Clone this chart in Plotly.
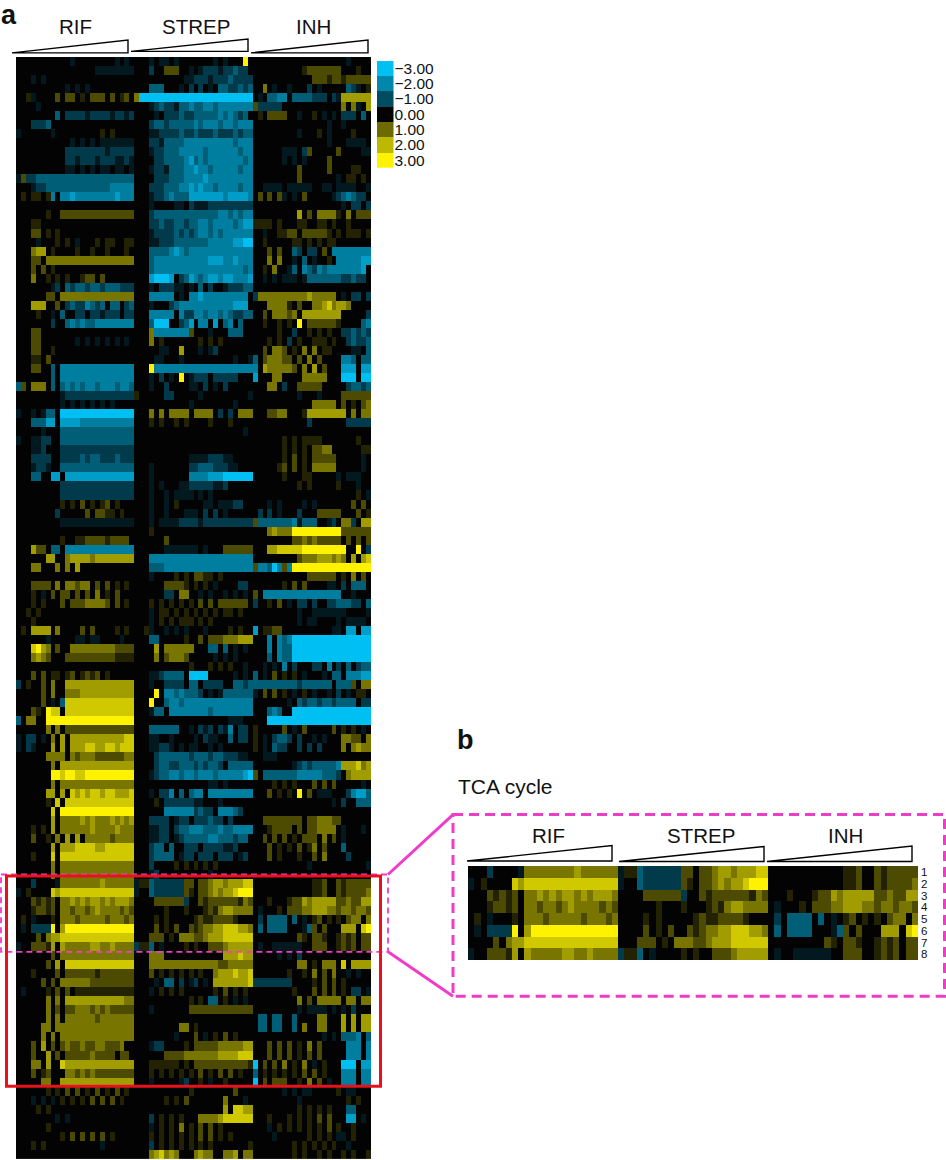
import plotly.graph_objects as go

# Cell codes: . = 0; a..f = negative steps down to -3; 1..6 = positive steps up to +3
RIF_ROWS = [
"...........a........a.a.","................aaaaaaaa","...a.a..................","..........a.a.a.........",
"..1a....2.22.1.222.2.12.","....a...................","........c.bbbbabbbbabbab","...bbbc.................",
"a......a.........1.1....","...........a.a.a.aaaaaaa","..........bbbbbbbbabbbbb","..........bbabbbabbbaaba",
"..........aa.a.a.aa.aa.a","a2bbcccccccccccccccccccc","...abbcccccccccccccddddd",".1.11.1d.ddeddddddddeddd",
"........................","......1..222222222222222","...11...................","...22.1.1...............",
"....a...1.1.a...1.11..11","...344.1....1..1..1...1.","...22.333333333333333333","...2.2.1................",
"...3..1.1.1..122.2......",".......ab.cbccbccbcccbbb","......22.333333333333333",
"...444..2.bcbbdcbc.cc.bc","....1..a.c..bb.bbabbb.bb",".......b..cdcdccdddddddd","...22...................",
"...22.......a.a.a.a.a.a.","...22..1................","...11.2.................","...22..c.ddddddddddddddd",
".......c.ddddddddddddddd","c2.333.c.cdcdcddcdddcddc",".........abbbbbbbbbbbbbb",".........a.a.a.a.a.a....",
"a..a.acc.fffffffffffffff","...cccee.eeeedddddddddddd",".....a...ccccccccccccccc","a..aabb..ccccccccccccccc",
"...aab...bbbbbbbbbbbbbbb","...bbbb..bbbbcbccbbbcbbb","...abba..ccccccccccccccc","...cc..ee.eeeeeeeeeeeeee",
".........bbbbbbbbbbbbbbb",".........bbbbbbbbbbbbbbb",".........1.1.2.1.12.1...","........b.....2.2211.1..",
".........aaaaaaaaaaaaaaa","........................",".........1..11222212222.","...422.cc.dddddddddddddd",
"......44..34444344444444","...33...3.3.4...........","........................","...2222.3.33233.2.2.1.1.",
"...1.a.2.22.2.2.3.1.2...","...1.1...2.22233332.2.1.","..1.1...................","...1....................",
".1.4444.3....2.2....1.1.","......a.....aa.aa....a..","...5643.2..3333333332222","...3432...22222222221111",
"........................","...2.2.11.12.1212.1.....","b.1..2.3..44444444444444",".....2.3..33344444444444",
".....2.a.c55555555555555","...21.655.55555555555555","c.33..666666666666666666","......3.3.22222222222222",
"a.bb.a.3.4.4444444444455","a.ba...4.4.4445544554555","......3333.3233322222233",".......3.444444444444444",
".......66566556666666666",".......3.333333333333333","......44.4.5454554554445","......1.5.55555555555555",
".......5.666666666666666",".......4.333343433343434","...1.1.4.333333433334333","...2..1.3.4.4.3333323333",
".......4.444555544555555","...1...5.555555555555555",".......3.333333333333333",".......3.333333333333333",
"...b....a333333334333333","a.1....54555555555555555","...21212.334343443434443","...12212.332332343333232",
".1.a...1.333233333233323",".a.bbbb6.466666666666666","....2.344555555555555555","a..22214.433333443343333",
".......2.333333333333333","......2.4.55555555555555","...1....2.22222212222222",".....2.2.333333222222222",
".a....1.2.2.111111111111","......3.3.44444444444433","......3.2.22333232322222","......3.3.33333323333333",
".....33.3333333333333333",".....3.3.333333333333333","...2.4.2.2322322332223..","...2..4.2.2222232222.22.",
"...33.4..544444444444444","...2.12...33232322222222",".....33..444444444444444","......1.1.2.2.1.2.1.2.1.",
"...a.a.a.1.1.1.2.2.2.1..","....1.1.................","........a.a.............","......1.................",
".........1.2.2.2.2.1....","...1.1...........a......","........................",
]
STREP_ROWS = [
"...a.aa.a.......a.a...6.","...b..222..a.abbbabbcbb.","..........aabbbabbbcbbbb","...ccc...a.b.b.a.ccbbcbc",
"3fffffffffffffffffffffff","...abcbbaccdccddcddddddd","....a.bbbcbbcccccdcdcbc.","...bccbcccccdcdddcddcddd",
"...aabbbbcbbcbbbcbbbcbcc","...bbaccccddddddddddcddd","...abbcccdddddcddddddcdd","....bbccccdecdcdddddddcd",
"...abbacccddeddcdddddcdd","....bbbcccddddeddddddddd","...bbbcccddededdcddddcdd","...abbcdccceeeeeeedeeeed",
"...a....aa.baaabbbbbbbbb","...bcccccccccccccddcdcdd","...bbcbbccbccddcddddcdee","...abbbbcbcbcddcdcdddddd",
"...aabbbcccccccdddddeeff","...ccccdedcddddddddddddd","...cdddddddddddeeeddeddd","...cddddddddddddddddddcd",
"...efffe.bcedcdeedeeddde","...a.bbbaa.a.c.b..abbbcc","...ddddd.a.ddeddddddddd.",
"...a...bcdddddddddddeee.","...ddddd.dbbddcddcdcbbcc","...cfff..bce.dd.e.cd.c..","...3ddddddd2...a...ccc..",
"...3.1.......1.1.1......",".....aa..4...a.ab.......","....aa...a..........a..a","...6dddddddddddddddddddd",
"...a.b.a.6.abbb.bbbbb...","...a..b....aa.b.a.b.....","1.....bb.....a.........a","...........a........a...",
"...3.3.3333.3333.b.b.333","...1.1..1.1....1...1....","......................a.","........................",
"........................","...........aaaabbbaa....","...a.......bbcccbbbaa...","...a.......ddddeeeffffff",
"...a.a...aabbbbbaab.....","...a..a.aaaa.a.a........","...a..a.1.....aa.aaabb..","...a..a...aaa.b.b.a.....",
"...a.aaaabbbbabbbbbbbbbb","...1....................","......2.................","......aaaaaaa.a...222222",
"...ddddddddddddddddddddd","...cccdddddddddddddddddd","...a....1.1.2211.1......","......22221.1.1.a....bb.",
"......bb.33..a.a..a.a.a.","...1.1.1.1.1.2.2.222222.","...a.11.1.1.1.1.1.11.1..","...a.1.1.111.1.1........",
"..1a..a.a.a...a....1.1..","...cc.....1..2.222333444","....4.333333...cc.c.a.a.","....3.23332.....a.a.a...",
"...........1...1.1.1..a.","...aabcccc.ffff.....a.a.","...a..bbbb.cc.bbbb..ccbc","....6.ddcdcccb.a.acccccc",
"...6..cddcdddddddddddddd","...acc.ddddddddcdddddddd","...................aaa..","...cccccc..a.bab.bad.bb.",
"...aa..a....a.baa..c.bb.","...aabba.a.aa..a.a......","....bccccccbcccbccbbbaa.","....bccbbcccbcbccb.ccccc",
"...abccddcddcdddcdddddef","...............aa.a.....","...a.bbd.c.cdd.ddddddddd","....1.bbbbbbaa...a......",
"......ddddddbcbb.dddcb..","...bbbb.abb.bbbcbb.b....","...aabb.bccdddcccdccdddd","...aabb.abcccccddcccbcc.",
"...bcc.c..bbb.bbbbaab...","...bcccc.abb.bbb.bbb.ab.","...b....1.1.1.1.1.......","...ab..........a........",
"a11cbbbbbb22.22344344455","a..cbbbbbb21.22343445666","....222222b..21222222132","......1...1...1213443333",
"....1.1.....121122221...","....2.1.2..2123344555443","...222.1.333223444555555","b11c.a....1.1..222344444",
"...333............444544","...333333333333332233333","...2.1.1.1.1.1..34445445","....a.cc.b.ab.a.44444445",
"...a.1.1.1......1.2.1.1.","...........1.1.cc.1.a.a.","...a.......2222222222222","........................",
".........33.1...........","........a...2.a.1.2.1...","...abb....1.222223333344","......222233333334444555",
"...111111.1.222222222221","...1.1.1.1.1.2.1.2.2.1..","...a.....ab..1.a..1.....","...........1........2...",
"......1.1.2.......3...a.","..................4.5544","...b.1.1.1...33334555555","...a.1.1.3.1.2.2.1......",
"...1.1.1.1.1.2.2.1.1....","...b.1.1.1.1.1.1.......1","...345343...3433..334.33",
]
INH_ROWS = [
"...................a....","..........12222222...1..","............222122122222","..3.a..a...b.a.....cba.1",
".a.ccdd.ccccbbb.ba444444","2bbbbb............3.3a.4",".1.2222..a..1.a.a.bbb.c.","...............a..a.....",
".........a...1.a....1...","...............a...aaaa.","......aaa.b2.....2....aa","......a.a.a....2........",
".........2.....2....11..",".........2.......a.11.1.","..aaaa.aaaaa..aa.aaaa..a",".2.2.2a.a.2.....abcdcbb.",
"..................a.bb.b",".........4.2.33331.3.222","1111.1...11..11.1..1....","..a..1122.222221.1.111.1",
"..1.....11.1.1.11.......","...2.2..cb.bb.2.dddddddd","...3.3..a.c.a..1.dddddee","..1.3..ac.dcbdcddddddde.",
"..a.a.aaa.acccccccbbcbb.","........................","b3333333333433333.a.bb.b",
"...33331.2..33453443....","..2.33323.44444444.....b","..1..1.1.6.2222221....cd",".....1..b..1.1.1..bbcbcb",
"...1.1.b.1..111.1..bcbbc","..2.332.1.3.3.11....aa.c","c.233322.2.3.2....ddc.cc","d.4333332.3.4.2...eee.ee",
"e...33....33333...fff.ff","...33.b..22222.....bccbc",".........a...a....222222","............33333.2.1.23",
"...2233...144444444.3.33","...........b.......bbbbb","........................","......1.1.1111.......1..",
"......1.1.1.2233......11","......1.2.1.22222.....a.",".....12.2.1.33333.....a.","......1...11.....a.aaa..",
".........1.1.....1...a..",".....................1.a","...a.a....a.a.......2.2.",".b.b.a...b...22222...2.1",
"2cccccccdaccc..ab.33b.44","...343336666666666222222","........2232322222.2.2.2","...4455555666666666..6.b",
".........2333444343.4.45","2ddcfd2d6666666666666666","...........222222.1.3.2.","......1.2.2....aa.b.ccc.",
"2.dddddddddddddddd..a...","b..1.2.a.bb.b..bbcccbb.c",".........a..aaaaaaa....a",".........a.aa....a.aaaa.",
"e.1122..........aa.ee.ee","...d.dcdffffffffffffffff","...d.dccffffffffffffffff","...c.dccffffffffffffffff",
"..a.a.d.b...bb.d.b.c.bcc","c.a.2.1.1.a...a.cc.dddee","cccccccccbcccccc.ccc2.33","a.2.2.1.a.1.a..a.b.a.11.",
".......a.cbccbccbcccc.bb","...cdc..ffffffffffffffff","...fffffffffffffffffffff","1.....2.a.2.....2.1.1.a.",
"1.a.bccb.b..a.a...3322.3","1.a.cbb..b.b.b....3.3433","..aaa...................","........abcbcccccd444534",
"2.cccccccdddddcccb.34444","....1.1.1...2.2.2.....a.","...2.1.1.6.2.aaa...bdeec","................a.b..ccc",
"........................","..22222222.2233322......","...12222.2.223333.a...a.","..2.2.2.1.222.3.2.a.....",
"...2.1.1.2.13.2...c.....","...2.1...1..2.3....b....","...........a...........a","........................",
"............112..2122222","............112..2122223","...1...122434444422 32244".replace(" ",""),".a...1.22233444332332332",
".b.cccc.c.a.12.1.1.233.3",".c.cccc...ac2.2...444.56",".........21.221..1212.22",".a..aaaaaa..222..1212.22",
".....a.a.b..............",".........33.1.333.5.4444",".......1..1.3.2.3..a.a..","bbbbbbbb....1.2.2.1.....",
"........1...2.2.2.1.bb.a",".........3.2.33333.33.33",".........a.aaaa.a.a.b...",".cc.cc..c....33...4.4.44",
".cc.cc..c.3..33...4.4.44","..............a.a.cccd.c","...2.2.2.1.3.2.....ddd.d","...2.2.2.1.2.2.....ddd.d",
"f.2.2.3.1.3.a.1...fff.ee","c.1.1.1.1.2.2.1...ddd.dd","f.2.222..1.3.2.a..ddd.dd","......a.a.aa.....1.aa...",
".........a.........1.1..",".........1.1.1.1...cc...","...1...1.1.1.2.2...ee.a.","...a.1.1.1.1.1.2.1..1...",
"....a......1.1.1.aa.1...","........1.1.1.1.1..a....","........1.1..1.1..1.1..1",
]
TCA_ROWS = list(range(91, 99))
TCA_LABELS = ["1", "2", "3", "4", "5", "6", "7", "8"]
GROUPS = ["RIF", "STREP", "INH"]
LEGEND_VALUES = [-3, -2, -1, 0, 1, 2, 3]
LEGEND_LABELS = ["\u22123.00", "\u22122.00", "\u22121.00", "0.00", "1.00", "2.00", "3.00"]
CODES = {".": 0, "a": -.3, "b": -.75, "c": -1.3, "d": -1.85, "e": -2.4, "f": -3,
         "1": .3, "2": .7, "3": 1.15, "4": 1.65, "5": 2.3, "6": 3}

W, H = 946, 1160
FONT = "Liberation Sans, Arial, sans-serif"
SCALE = [[0, "#00bff3"], [1/6, "#0087ab"], [2/6, "#004c61"], [3/6, "#030303"],
         [4/6, "#6c6a00"], [5/6, "#bdb800"], [1, "#fff200"]]

def row(i):
    out = []
    for s in (RIF_ROWS[i], STREP_ROWS[i], INH_ROWS[i]):
        out += [CODES[c] for c in (s + "." * 24)[:24]]
    return out

Z = [row(i) for i in range(len(RIF_ROWS))]
Z_TCA = [Z[i] for i in TCA_ROWS]

def X(p): return p / W
def Y(p): return 1 - p / H

fig = go.Figure()
common = dict(colorscale=SCALE, zmin=-3, zmax=3, showscale=False, hoverinfo="skip", xgap=0, ygap=0)
fig.add_trace(go.Heatmap(z=Z, xaxis="x", yaxis="y", **common))
fig.add_trace(go.Heatmap(z=Z_TCA, y=TCA_LABELS, xaxis="x2", yaxis="y2", **common))
fig.add_trace(go.Heatmap(z=[[v] for v in LEGEND_VALUES], y=LEGEND_LABELS, xaxis="x3", yaxis="y3", **common))

off = dict(visible=False, showgrid=False, zeroline=False)
fig.update_layout(
    width=W, height=H, margin=dict(l=0, r=0, t=0, b=0), autosize=False,
    paper_bgcolor="white", plot_bgcolor="white", font=dict(family=FONT, color="#111"),
    xaxis=dict(domain=[X(16), X(371)], range=[-.5, 71.5], **off),
    yaxis=dict(domain=[0, Y(56)], range=[121.5, -.5], **off),
    xaxis2=dict(domain=[X(468), X(918)], range=[-.5, 71.5], **off),
    yaxis2=dict(domain=[Y(961), Y(866.5)], type="category", autorange="reversed", side="right",
                anchor="x2", showgrid=False, zeroline=False, showline=False, ticks="", ticklen=0,
                tickmode="array", tickvals=TCA_LABELS, ticktext=TCA_LABELS, ticklabelstandoff=2,
                tickfont=dict(size=11.5, color="#111", family=FONT)),
    xaxis3=dict(domain=[X(377), X(393.5)], range=[-.5, .5], **off),
    yaxis3=dict(domain=[Y(167), Y(60)], type="category", autorange="reversed", side="right",
                anchor="x3", showgrid=False, zeroline=False, showline=False, ticks="", ticklen=0,
                tickmode="array", tickvals=LEGEND_LABELS, ticktext=LEGEND_LABELS,
                tickfont=dict(size=15.5, color="#111", family=FONT)),
)

shapes = []
def tri(x0, x1, base, top, w=1.4):
    shapes.append(dict(type="path", xref="paper", yref="paper",
        path=f"M{X(x0)},{Y(base)} L{X(x1)},{Y(base)} L{X(x1)},{Y(top)} Z",
        line=dict(color="black", width=w), fillcolor="rgba(0,0,0,0)"))
for a, b, c, d in [(12, 128, 52, 39), (131, 248, 50.5, 38), (251, 368, 52, 39),
                   (467, 612, 861.5, 846), (619, 764, 862, 847), (767, 912, 862, 846.5)]:
    tri(a, b, c, d)

def rect(x0, y0, x1, y1, color, w, dash="solid"):
    shapes.append(dict(type="rect", xref="paper", yref="paper", x0=X(x0), x1=X(x1), y0=Y(y0), y1=Y(y1),
                       line=dict(color=color, width=w, dash=dash), fillcolor="rgba(0,0,0,0)"))
def seg(x0, y0, x1, y1, color, w):
    shapes.append(dict(type="line", xref="paper", yref="paper", x0=X(x0), x1=X(x1), y0=Y(y0), y1=Y(y1),
                       line=dict(color=color, width=w)))
MAG = "#f03cc8"
rect(1, 875, 388, 952.5, MAG, 1.8, "6px,4px")
rect(6.5, 876.5, 380.5, 1087, "#e8121e", 3)
rect(453, 815, 944.5, 997, MAG, 3, "10px,6px")
seg(388, 875, 453, 815, MAG, 3)
seg(388, 952.5, 453, 997, MAG, 3)
fig.update_layout(shapes=shapes)

def text(x, y, s, size, bold=False, anchor="center"):
    fig.add_annotation(xref="paper", yref="paper", x=X(x), y=Y(y), text=f"<b>{s}</b>" if bold else s,
                       showarrow=False, xanchor=anchor, yanchor="middle",
                       font=dict(size=size, family=FONT, color="#111"))
text(-1, 14, "a", 27, True, "left")
text(455, 740, "b", 27, True, "left")
text(456, 787, "TCA cycle", 21, False, "left")
for g, x in zip(GROUPS, [75, 196, 313]):
    text(x, 26, g, 20.5)
for g, x in zip(GROUPS, [548, 701, 845]):
    text(x, 836, g, 20.5)

fig.write_html("out.html", config={"displayModeBar": False},
               post_script="document.body.style.margin='0';document.body.style.overflow='hidden';")
